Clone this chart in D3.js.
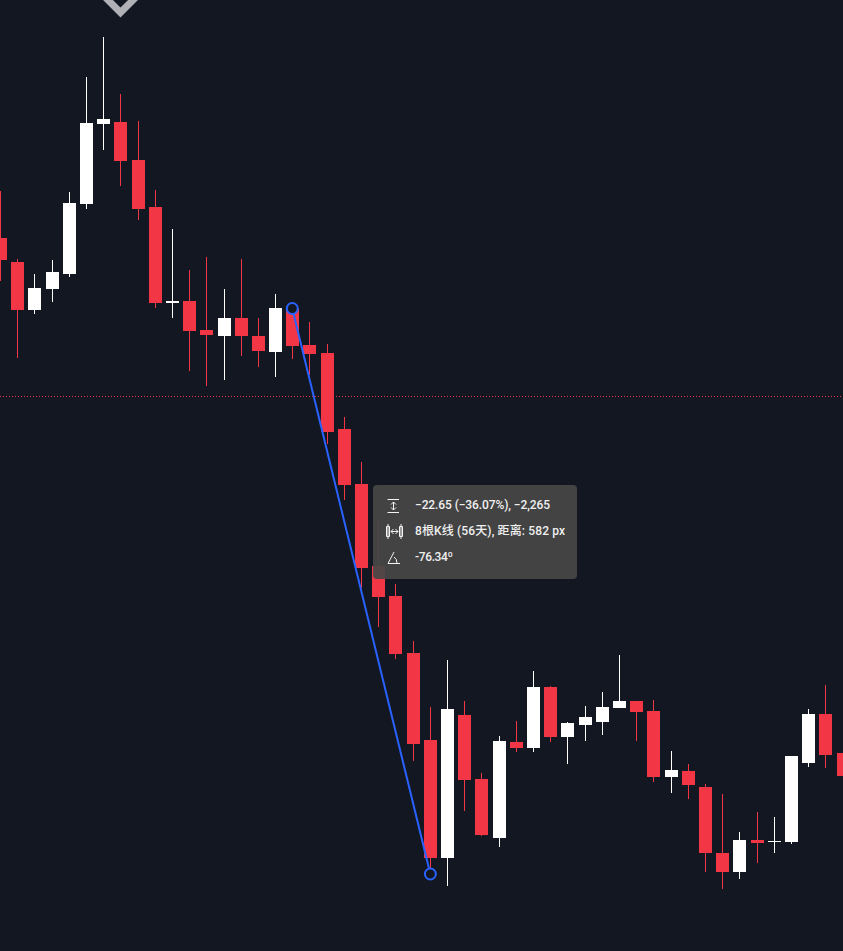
<!DOCTYPE html>
<html lang="en">

<head>
    <meta charset="UTF-8">
    <title>Candlestick with measure tool</title>
    <script src="https://cdn.jsdelivr.net/npm/d3@7/dist/d3.min.js"></script>
    <style>
        html, body { margin: 0; padding: 0; background: #131722; overflow: hidden; }
        svg { display: block; }
    </style>
</head>

<body>
    <script>
        var opens = [65.63, 64.67, 62.75, 63.59, 64.19, 66.99, 70.19, 70.27, 68.75, 66.87,
            63.03, 63.11, 61.95, 61.71, 62.43, 61.71, 61.07, 62.83, 61.35, 61.03,
            57.99, 55.79, 52.51, 51.31, 49.03, 45.55, 40.83, 46.55, 43.99, 41.63,
            45.47, 45.23, 47.67, 45.67, 46.15, 46.27, 46.83, 47.11, 46.71, 44.07,
            44.31, 43.67, 41.03, 40.27, 41.55, 41.47, 41.47, 44.63, 46.59, 45.03];
        var closes = [64.75, 62.75, 63.63, 64.27, 67.03, 70.23, 70.39, 68.71, 66.79, 63.03,
            63.11, 61.91, 61.75, 62.43, 61.71, 61.11, 62.83, 61.31, 60.99, 57.87,
            55.75, 52.43, 51.27, 48.99, 45.39, 40.83, 46.79, 43.95, 41.75, 45.51,
            45.23, 47.67, 45.67, 46.23, 46.47, 46.87, 47.11, 46.67, 44.07, 44.35,
            43.75, 41.03, 40.27, 41.55, 41.43, 41.51, 44.91, 46.59, 44.95, 44.11];
        var highs = [67.51, 64.79, 64.19, 64.75, 67.47, 72.07, 73.67, 71.39, 70.31, 67.55,
            65.99, 64.35, 64.87, 63.59, 64.79, 62.43, 63.39, 63.03, 62.27, 61.39,
            58.47, 56.67, 54.35, 51.79, 49.51, 46.87, 48.75, 47.11, 44.23, 45.71,
            46.31, 48.31, 47.71, 46.27, 46.91, 47.47, 48.95, 47.11, 47.15, 45.11,
            44.59, 43.79, 43.39, 41.87, 42.67, 42.47, 44.91, 46.79, 47.75, 45.35];
        var lows = [63.91, 60.83, 62.59, 63.07, 64.07, 66.79, 69.15, 67.71, 66.35, 62.83,
            62.43, 60.31, 59.71, 59.95, 60.91, 60.47, 60.07, 60.79, 60.15, 57.39,
            55.15, 51.63, 50.07, 48.79, 44.71, 40.35, 39.71, 42.71, 41.71, 41.27,
            45.07, 45.07, 45.47, 44.59, 45.51, 45.75, 46.83, 45.51, 43.87, 43.43,
            43.19, 40.27, 39.59, 39.99, 40.63, 41.03, 41.39, 44.47, 44.43, 43.55];

        var markerPrice = 59.31;
        var arrowIndex = 7;
        var measureStart = { index: 16.97, price: 62.81 };
        var measureEnd = { index: 25, price: 40.19 };
        var tooltipLines = ["\u221222.65 (\u221236.07%), \u22122,265", "8根K线 (56天), 距离: 582 px", "-76.34º"];

        var width = 843;
        var height = 951;
        var bg = "#131722";
        var red = "#f23645";
        var white = "#ffffff";
        var blue = "#2962ff";

        var xScale = d3.scaleLinear().domain([0, 49]).range([0.48, 843.03]);
        var yScale = d3.scaleLinear().domain([75.15, 37.11]).range([0, height]);

        function px(i) { return Math.floor(xScale(i)); }
        function py(p) { return Math.round(yScale(p)); }
        function candleColor(i) { return closes[i] < opens[i] ? red : white; }

        var svg = d3.select("body").append("svg").attr("width", width).attr("height", height).style("background", bg);

        // dotted price line
        svg.append("line").attr("x1", 0).attr("x2", width).attr("y1", py(markerPrice) + 0.5).attr("y2", py(markerPrice) + 0.5)
            .attr("stroke", red).attr("stroke-width", 1).attr("stroke-dasharray", "1,2");

        // arrow marker at the top
        svg.append("path").attr("fill", "none").attr("stroke", "#b0b1b6").attr("stroke-width", 7)
            .attr("d", d3.line()([[px(arrowIndex) - 20 + 0.5, -7.5], [px(arrowIndex) + 0.5, 12.5], [px(arrowIndex) + 20 + 0.5, -7.5]]));

        var idx = d3.range(opens.length);

        svg.selectAll("line.wick").data(idx).enter().append("line").attr("class", "wick")
            .attr("x1", function (i) { return px(i) + 0.5; })
            .attr("x2", function (i) { return px(i) + 0.5; })
            .attr("y1", function (i) { return py(highs[i]); })
            .attr("y2", function (i) { return py(lows[i]); })
            .attr("stroke", candleColor).attr("stroke-width", 1);

        svg.selectAll("rect.body").data(idx).enter().append("rect").attr("class", "body")
            .attr("x", function (i) { return px(i) - 6; })
            .attr("width", 13)
            .attr("y", function (i) { return py(Math.max(opens[i], closes[i])); })
            .attr("height", function (i) { return Math.max(1, py(Math.min(opens[i], closes[i])) - py(Math.max(opens[i], closes[i]))); })
            .attr("fill", candleColor);

        // measure line
        var mx1 = xScale(measureStart.index), my1 = yScale(measureStart.price);
        var mx2 = xScale(measureEnd.index), my2 = yScale(measureEnd.price);
        svg.append("line").attr("x1", mx1).attr("y1", my1).attr("x2", mx2).attr("y2", my2)
            .attr("stroke", blue).attr("stroke-width", 2);
        svg.selectAll("circle.end").data([[mx1, my1], [mx2, my2]]).enter().append("circle").attr("class", "end")
            .attr("cx", function (d) { return d[0]; }).attr("cy", function (d) { return d[1]; })
            .attr("r", 5.5).attr("fill", bg).attr("stroke", blue).attr("stroke-width", 2);

        // tooltip
        var tip = svg.append("g").attr("transform", "translate(373,485)");
        tip.append("rect").attr("width", 204).attr("height", 94).attr("rx", 4)
            .attr("fill", "#474747").attr("fill-opacity", 0.93);

        var lineWidths = [135, 150, 38];
        tip.selectAll("text").data(tooltipLines).enter().append("text")
            .text(function (d) { return d; })
            .attr("x", 42)
            .attr("y", function (d, i) { return 24 + i * 26; })
            .attr("textLength", function (d, i) { return lineWidths[i]; })
            .attr("lengthAdjust", "spacing")
            .attr("fill", "#f0f0f0")
            .style("font-family", "Roboto, 'Noto Sans CJK SC', sans-serif")
            .style("font-size", "12px")
            .style("font-weight", "500");

        // the three little icons
        var icons = tip.append("g").attr("fill", "none").attr("stroke", "#f4f4f4").attr("stroke-width", 1);
        icons.append("path").attr("d", "M14.5,14.5H26 M14.5,27.5H26 M20.5,17V25 M18,19.5L20.5,17L23,19.5 M18,22.5L20.5,25L23,22.5");
        icons.append("path").attr("d", "M13.5,41.5H16.5V51.5H13.5Z M26.5,41.5H29.5V51.5H26.5Z M15,39V54 M28,39V54 M18,46.5H25 M20.5,44L18,46.5L20.5,49 M22.5,44L25,46.5L22.5,49");
        icons.append("path").attr("d", "M15,78.5H27 M15,78.5L21,67 M21,72Q24,74 24,78");
    </script>
</body>

</html>
